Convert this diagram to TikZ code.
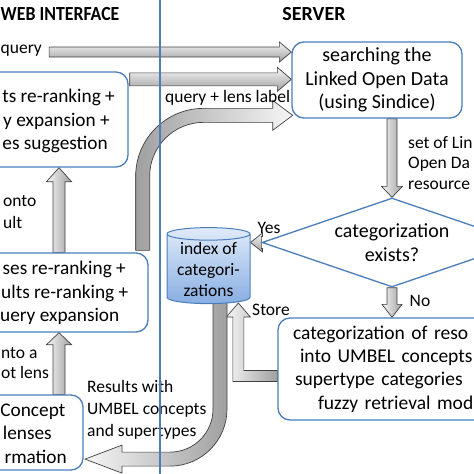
\documentclass[tikz,border=0pt]{standalone}
\usepackage{fontspec}
\setmainfont{Carlito}
\usetikzlibrary{shapes.geometric,calc}
\definecolor{boxblue}{RGB}{74,126,187}
\definecolor{arlight}{RGB}{246,246,246}
\definecolor{ardark}{RGB}{160,160,160}
\definecolor{cyltop}{RGB}{224,235,250}
\definecolor{cylbot}{RGB}{136,174,226}
\pgfdeclarelayer{background}
\pgfsetlayers{background,main}
\tikzset{
  barrow/.style={draw=black!75, line width=0.7pt, line join=miter},
  box/.style={draw=boxblue, line width=1.3pt, rounded corners=12pt, fill=white, inner sep=0pt},
  boxtxt/.style={font=\fontsize{20}{23.5}\selectfont},
  sidetxt/.style={font=\fontsize{19.3}{23.5}\selectfont, inner sep=0pt, align=right, anchor=east},
  lbl/.style={font=\fontsize{17.5}{21}\selectfont, inner sep=0pt},
  hdr/.style={font=\bfseries\fontsize{20}{24}\selectfont, inner sep=0pt}
}
\newcommand\gap[1]{\leavevmode\hbox to #1{}}
% block arrows: #1 tail, #2 tip, #3 half shaft, #4 head length, #5 half head
\newcommand\barR[5]{\path[barrow,top color=arlight,bottom color=ardark] let \p1=(#1),\p2=(#2) in
  (\x1,\y1+#3) -- (\x2-#4,\y1+#3) -- (\x2-#4,\y1+#5) -- (\x2,\y1) -- (\x2-#4,\y1-#5) -- (\x2-#4,\y1-#3) -- (\x1,\y1-#3) -- cycle;}
\newcommand\barL[5]{\path[barrow,top color=arlight,bottom color=ardark] let \p1=(#1),\p2=(#2) in
  (\x1,\y1+#3) -- (\x2+#4,\y1+#3) -- (\x2+#4,\y1+#5) -- (\x2,\y1) -- (\x2+#4,\y1-#5) -- (\x2+#4,\y1-#3) -- (\x1,\y1-#3) -- cycle;}
\newcommand\barU[5]{\path[barrow,left color=arlight,right color=ardark] let \p1=(#1),\p2=(#2) in
  (\x1-#3,\y1) -- (\x1-#3,\y2-#4) -- (\x1-#5,\y2-#4) -- (\x1,\y2) -- (\x1+#5,\y2-#4) -- (\x1+#3,\y2-#4) -- (\x1+#3,\y1) -- cycle;}
\newcommand\barD[5]{\path[barrow,left color=arlight,right color=ardark] let \p1=(#1),\p2=(#2) in
  (\x1-#3,\y1) -- (\x1-#3,\y2+#4) -- (\x1-#5,\y2+#4) -- (\x1,\y2) -- (\x1+#5,\y2+#4) -- (\x1+#3,\y2+#4) -- (\x1+#3,\y1) -- cycle;}
\begin{document}
\begin{tikzpicture}[x=1pt,y=-1pt]
\useasboundingbox (0,0) rectangle (474,474);
\clip (0,0) rectangle (474,474);

% headers
\node[hdr, anchor=west] (webhdr) at (0.5,14) {\scalebox{0.89}[1]{WEB INTERFACE}};
\node[hdr] (srvhdr) at (314,14) {SERVER};

% boxes
\node[box, minimum width=170pt, minimum height=76pt, align=center, boxtxt] (search) at (377,80)
  {searching the\\Linked Open Data\\(using Sindice)};
\node[box, minimum width=208pt, minimum height=95pt] (tlbox) at (24,119.5) {};
\node[sidetxt] (tltxt) at (115,121) {ts re-ranking +\\y expansion +\gap{5pt}\\es suggestion\gap{7pt}};
\node[box, minimum width=228pt, minimum height=79pt] (mlbox) at (34,292.5) {};
\node[sidetxt] (mltxt) at (128.5,293) {ses re-ranking +\gap{2.5pt}\\ults re-ranking +\\uery expansion\gap{9pt}};
\node[box, minimum width=143pt, minimum height=75pt] (blbox) at (11.5,432.5) {};
\node[sidetxt] (bltxt) at (67,433.5) {Concept\gap{1.5pt}\\lenses\gap{15pt}\\rmation};
\node[box, minimum width=292pt, minimum height=102pt, inner xsep=15pt, text width=262pt, align=left, font=\fontsize{19.5}{23.3}\selectfont] (catbox) at (424,369)
  {categorization of reso\\\hspace*{7pt}into UMBEL concepts\\\hspace*{2pt}supertype categories\\\hspace*{25pt}fuzzy retrieval mod};
\node[diamond, draw=boxblue, line width=1.3pt, fill=white, minimum width=260pt, minimum height=89pt, aspect=2.92, inner sep=0pt, align=center, boxtxt] (dia) at (392,242.5)
  {categorization\\exists?};
\node[cylinder, shape border rotate=90, aspect=0.2, draw=boxblue, line width=1pt, top color=cyltop, bottom color=cylbot, minimum width=83pt, minimum height=76pt, inner sep=0pt, align=center, font=\fontsize{17.5}{21}\selectfont] (cyl) at (208.5,269)
  {index of\\categori-\\zations};

% labels
\node[lbl, anchor=west] (qry) at (0.5,51) {query};
\node[lbl, anchor=west] (lenslbl) at (165,98) {query + lens label};
\node[lbl, anchor=west, align=left, font=\fontsize{17.5}{20.5}\selectfont] (setlbl) at (408,163) {set of Lin\\Open Da\\resource};
\node[lbl] (yeslbl) at (269,228) {Yes};
\node[lbl] (nolbl) at (420,301) {No};
\node[lbl] (storelbl) at (271,310) {Store};
\node[lbl, anchor=west, align=left, font=\fontsize{17.5}{22}\selectfont] (reslbl) at (87,410) {Results with\\UMBEL concepts\\and supertypes};
\node[lbl, anchor=west, align=left, font=\fontsize{17.5}{22}\selectfont] (ontolbl) at (3,212) {onto\\ult};
\node[lbl, anchor=west, align=left, font=\fontsize{17.5}{20}\selectfont] (ntolbl) at (1,363) {nto a\\ot lens};

% connector end points
\coordinate (c3) at ($(mlbox.north east)+(-6,-2)$);
\coordinate (rs) at ($(cyl.south)+(11.5,-8)$);
\coordinate (st) at ($(catbox.west)+(0,7)$);
\coordinate (ua) at ($(mlbox.north)+(25,0)$);
\coordinate (ub) at ($(blbox.north)+(47.5,0)$);

\begin{pgfonlayer}{background}
\clip (0,0) rectangle (474,474);
\barR{$(qry.east)+(7,1)$}{search.west}{5pt}{12pt}{10pt}
\barR{$(tlbox.north east)+(1,8)$}{search.west}{6.5pt}{14pt}{12pt}
% curved arrow up into the search box
\path[barrow, left color=ardark, right color=arlight]
  ($(c3)+(-7,0)$) -- ++(0,-74) arc[start angle=180,end angle=270,radius=68]
  -- ++(69,0) -- ++(0,-8) -- ++(20,15) -- ++(-20,15) -- ++(0,-8) -- ++(-69,0)
  arc[start angle=270,end angle=180,radius=54] -- ++(0,74) -- cycle;
\barD{search.south -| dia.north}{dia.north}{5pt}{11pt}{10.5pt}
\barL{dia.west}{cyl.east}{6pt}{12pt}{9.5pt}
\barD{dia.south}{catbox.north -| dia.south}{5pt}{13pt}{10pt}
% store arrow
\path[barrow, left color=arlight, right color=ardark]
  ($(st)+(0,-5.5)$) -- ++(-33.5,0) -- ++(0,-53.5) -- ++(6.5,0) -- ++(-12,-14) -- ++(-12,14)
  -- ++(6.5,0) -- ++(0,64.5) -- ++(44.5,0) -- cycle;
% results arrow
\path[barrow, left color=arlight, right color=ardark]
  ($(rs)+(7,0)$) -- ++(0,113) arc[start angle=0,end angle=90,radius=57]
  -- ++(-48,0) -- ++(0,7) -- ++(-37,-14) -- ++(37,-14) -- ++(0,7) -- ++(48,0)
  arc[start angle=90,end angle=0,radius=43] -- ++(0,-113) -- cycle;
\barU{ua}{ua |- tlbox.south}{6pt}{14pt}{12.5pt}
\barU{ub}{ub |- mlbox.south}{6pt}{12pt}{12.5pt}
\end{pgfonlayer}

% divider
\draw[boxblue, line width=2pt] (160,0) -- (160,474);
\end{tikzpicture}
\end{document}
